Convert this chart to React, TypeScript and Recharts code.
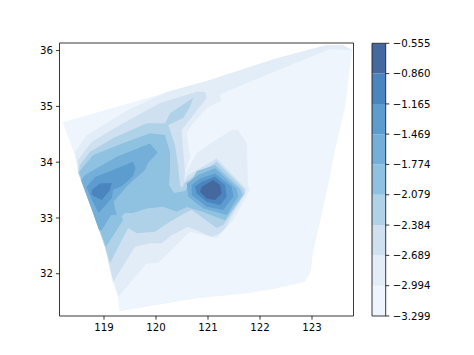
import { Area, ComposedChart, ReferenceArea, XAxis, YAxis } from 'recharts';

type Ring = number[][];

const levels = [-3.299, -2.994, -2.689, -2.384, -2.079, -1.774, -1.469, -1.165, -0.86, -0.555];
const palette = ['#eff5fc', '#e2edf7', '#cfe1f1', '#b0d2e8', '#8fc1e0', '#73afd8', '#5c9ccf', '#4a85bf', '#44699f'];
const xTicks = [119, 120, 121, 122, 123];
const yTicks = [32, 33, 34, 35, 36];

// contour outlines as [longitude, latitude], lowest level first
const hull: Ring = [
  [118.206, 34.714], [119.437, 35.042], [121.038, 35.473], [122.321, 35.862], [123.283, 36.1], [123.596, 36.1],
  [123.77, 36.011], [123.635, 34.994], [123.442, 34.217], [123.379, 33.912], [123.308, 33.589], [123.154, 32.931],
  [123.019, 32.393], [122.975, 32.034], [122.865, 31.855], [122.577, 31.796], [122.321, 31.736], [121.712, 31.647],
  [120.75, 31.557], [119.788, 31.406], [119.298, 31.329], [119.269, 31.586], [119.148, 31.885], [119.019, 32.483],
  [118.794, 33.087], [118.506, 33.804], [118.442, 34.127],
];
const band1: Ring = [
  [118.442, 34.181], [118.667, 34.486], [119.052, 34.701], [119.462, 34.935], [120.206, 35.257], [121.038, 35.473],
  [122.321, 35.862], [123.283, 36.1], [123.596, 36.1], [123.77, 36.011], [123.635, 36.011], [123.346, 36.029],
  [122.308, 35.634], [121.231, 35.216], [121.25, 35.096], [120.975, 34.97], [120.687, 34.665], [120.59, 34.522],
  [120.654, 34.092], [120.538, 33.751], [120.783, 34.163], [121.096, 34.366], [121.456, 34.577], [121.577, 34.577],
  [121.744, 34.343], [121.769, 33.589], [121.808, 33.5], [121.481, 32.961], [121.167, 32.635], [120.654, 32.752],
  [120.044, 32.196], [119.821, 32.185], [119.275, 31.586], [119.019, 32.483], [118.794, 33.087], [118.506, 33.804],
];
const band2: Ring = [
  [118.5, 34.038], [118.763, 34.366], [119.308, 34.665], [120.077, 35.06], [120.783, 35.263], [120.942, 35.257],
  [120.975, 35.15], [120.494, 34.576], [120.525, 34.187], [120.558, 33.828], [120.538, 33.625], [120.596, 33.751],
  [121.167, 34.068], [121.744, 33.512], [121.327, 32.813], [121.231, 32.728], [121.071, 32.662], [120.615, 32.842],
  [120.302, 32.692], [120.11, 32.549], [119.885, 32.549], [119.596, 32.483], [119.179, 31.855], [119.019, 32.483],
  [118.794, 33.087], [118.506, 33.804],
];
const band3: Ring = [
  [118.538, 33.948], [118.731, 34.187], [119.179, 34.432], [119.821, 34.696], [120.173, 34.696], [120.269, 34.875],
  [120.717, 35.155], [120.654, 34.994], [120.525, 34.79], [120.237, 34.666], [120.365, 34.307], [120.423, 33.948],
  [120.462, 33.589], [120.5, 33.535], [120.558, 33.643], [121.167, 34.007], [121.679, 33.53], [121.712, 33.44],
  [121.294, 32.872], [121.167, 32.818], [120.687, 33.141], [120.558, 33.087], [120.269, 32.931], [119.981, 32.752],
  [119.629, 32.728], [119.462, 32.818], [119.115, 32.19], [119.019, 32.483], [118.794, 33.087], [118.506, 33.804],
];
const band4: Ring = [
  [118.519, 33.822], [118.602, 33.917], [118.794, 34.127], [119.437, 34.366], [119.885, 34.517], [120.173, 34.486],
  [120.269, 34.181], [120.269, 33.858], [120.25, 33.589], [120.346, 33.446], [120.558, 33.482], [120.788, 33.84],
  [121.135, 33.948], [121.615, 33.53], [121.667, 33.41], [121.327, 32.961], [120.846, 33.123], [120.596, 33.195],
  [120.398, 33.11], [120.135, 33.2], [119.821, 33.171], [119.558, 33.087], [119.404, 33.087], [119.34, 33.033],
  [119.365, 32.961], [119.038, 32.483], [118.794, 33.087],
];
const band5West: Ring = [
  [119.885, 34.334], [120.029, 34.172], [119.846, 33.984], [119.788, 33.858], [119.462, 33.589], [119.183, 33.29],
  [119.244, 33.051], [119.135, 33.051], [118.956, 32.782], [118.904, 32.782], [118.788, 33.087], [118.558, 33.679],
  [118.635, 33.769], [119.244, 34.097],
];
const band5East: Ring = [
  [121.135, 33.889], [121.552, 33.53], [121.577, 33.379], [121.36, 33.051], [120.91, 33.171], [120.621, 33.379],
  [120.59, 33.62], [120.813, 33.769],
];
const band6West: Ring = [
  [119.558, 34.007], [119.606, 33.894], [119.558, 33.751], [119.346, 33.571], [119.173, 33.5], [119.154, 33.356],
  [118.894, 33.087], [118.769, 33.32], [118.663, 33.553], [118.827, 33.733], [119.173, 33.858],
];
const band6East: Ring = [
  [121.135, 33.799], [121.456, 33.559], [121.487, 33.379], [121.294, 33.141], [120.975, 33.2], [120.687, 33.41],
  [120.687, 33.589], [120.846, 33.709],
];
const band7West: Ring = [
  [119.148, 33.625], [119.115, 33.5], [118.956, 33.32], [118.763, 33.41], [118.763, 33.5], [118.923, 33.62],
];
const band7East: Ring = [
  [121.135, 33.738], [121.327, 33.589], [121.36, 33.379], [121.231, 33.23], [120.975, 33.29], [120.783, 33.44],
  [120.75, 33.559], [120.879, 33.648],
];
const band8: Ring = [
  [121.102, 33.679], [121.231, 33.589], [121.263, 33.44], [121.135, 33.32], [120.975, 33.351], [120.846, 33.469],
  [120.879, 33.559],
];

const regions: [Ring, number][] = [
  [hull, 0], [band1, 1], [band2, 2], [band3, 3], [band4, 4], [band5West, 5], [band5East, 5],
  [band6West, 6], [band6East, 6], [band7West, 7], [band7East, 7], [band8, 8],
];

const closeRing = (ring: Ring) => [...ring, ring[0]].map(([x, y]) => ({ x, y }));
const fmtLevel = (v: number) => v.toFixed(3).replace('-', '\u2212');

const tickFont = { fontFamily: 'DejaVu Sans', fontSize: 10.2, fill: '#000' };
const xDomain = [118.144, 123.798];
const yDomain = [31.243, 36.136];

function ContourMap() {
  return (
    <ComposedChart width={474} height={355} margin={{ top: 43, right: 120.5, bottom: 38, left: 58.5 }}>
      <XAxis
        dataKey='x'
        type='number'
        domain={xDomain}
        allowDataOverflow
        ticks={xTicks}
        height={1}
        axisLine={false}
        tick={tickFont}
        tickSize={3.6}
        tickMargin={4.5}
        tickLine={{ stroke: '#000', strokeWidth: 0.8 }}
      />
      <YAxis
        type='number'
        domain={yDomain}
        allowDataOverflow
        ticks={yTicks}
        width={1}
        axisLine={false}
        tick={tickFont}
        tickSize={3.6}
        tickMargin={3}
        tickLine={{ stroke: '#000', strokeWidth: 0.8 }}
      />
      {regions.map(([ring, level], i) => (
        <Area
          key={i}
          data={closeRing(ring)}
          dataKey='y'
          baseValue={yDomain[0]}
          type='linear'
          fill={palette[level]}
          fillOpacity={1}
          stroke='none'
          dot={false}
          activeDot={false}
          isAnimationActive={false}
        />
      ))}
      <ReferenceArea
        x1={xDomain[0]}
        x2={xDomain[1]}
        y1={yDomain[0]}
        y2={yDomain[1]}
        fill='none'
        stroke='#222'
        strokeWidth={0.9}
      />
    </ComposedChart>
  );
}

function ColorBar() {
  const bandEnds = levels.slice(0, -1).map((lo, i) => [
    { x: 0, range: [lo, levels[i + 1]] },
    { x: 1, range: [lo, levels[i + 1]] },
  ]);
  return (
    <ComposedChart width={474} height={355} margin={{ top: 43.3, right: 87.3, bottom: 39, left: 372 }}>
      <XAxis dataKey='x' type='number' domain={[0, 1]} hide />
      <YAxis
        type='number'
        orientation='right'
        domain={[levels[0], levels[levels.length - 1]]}
        allowDataOverflow
        ticks={levels}
        interval={0}
        tickFormatter={fmtLevel}
        width={1}
        axisLine={false}
        tick={tickFont}
        tickSize={3.6}
        tickMargin={3.5}
        tickLine={{ stroke: '#000', strokeWidth: 0.8 }}
      />
      {bandEnds.map((ends, i) => (
        <Area
          key={i}
          data={ends}
          dataKey='range'
          type='linear'
          fill={palette[i]}
          fillOpacity={1}
          stroke='none'
          dot={false}
          activeDot={false}
          isAnimationActive={false}
        />
      ))}
      <ReferenceArea
        x1={0}
        x2={1}
        y1={levels[0]}
        y2={levels[levels.length - 1]}
        fill='none'
        stroke='#222'
        strokeWidth={0.9}
      />
    </ComposedChart>
  );
}

export default function App() {
  return (
    <div style={{ position: 'absolute', left: 0, top: 0, width: 474, height: 355, background: '#fff' }}>
      <div style={{ position: 'absolute', left: 0, top: 0 }}>
        <ContourMap />
      </div>
      <div style={{ position: 'absolute', left: 0, top: 0 }}>
        <ColorBar />
      </div>
    </div>
  );
}
